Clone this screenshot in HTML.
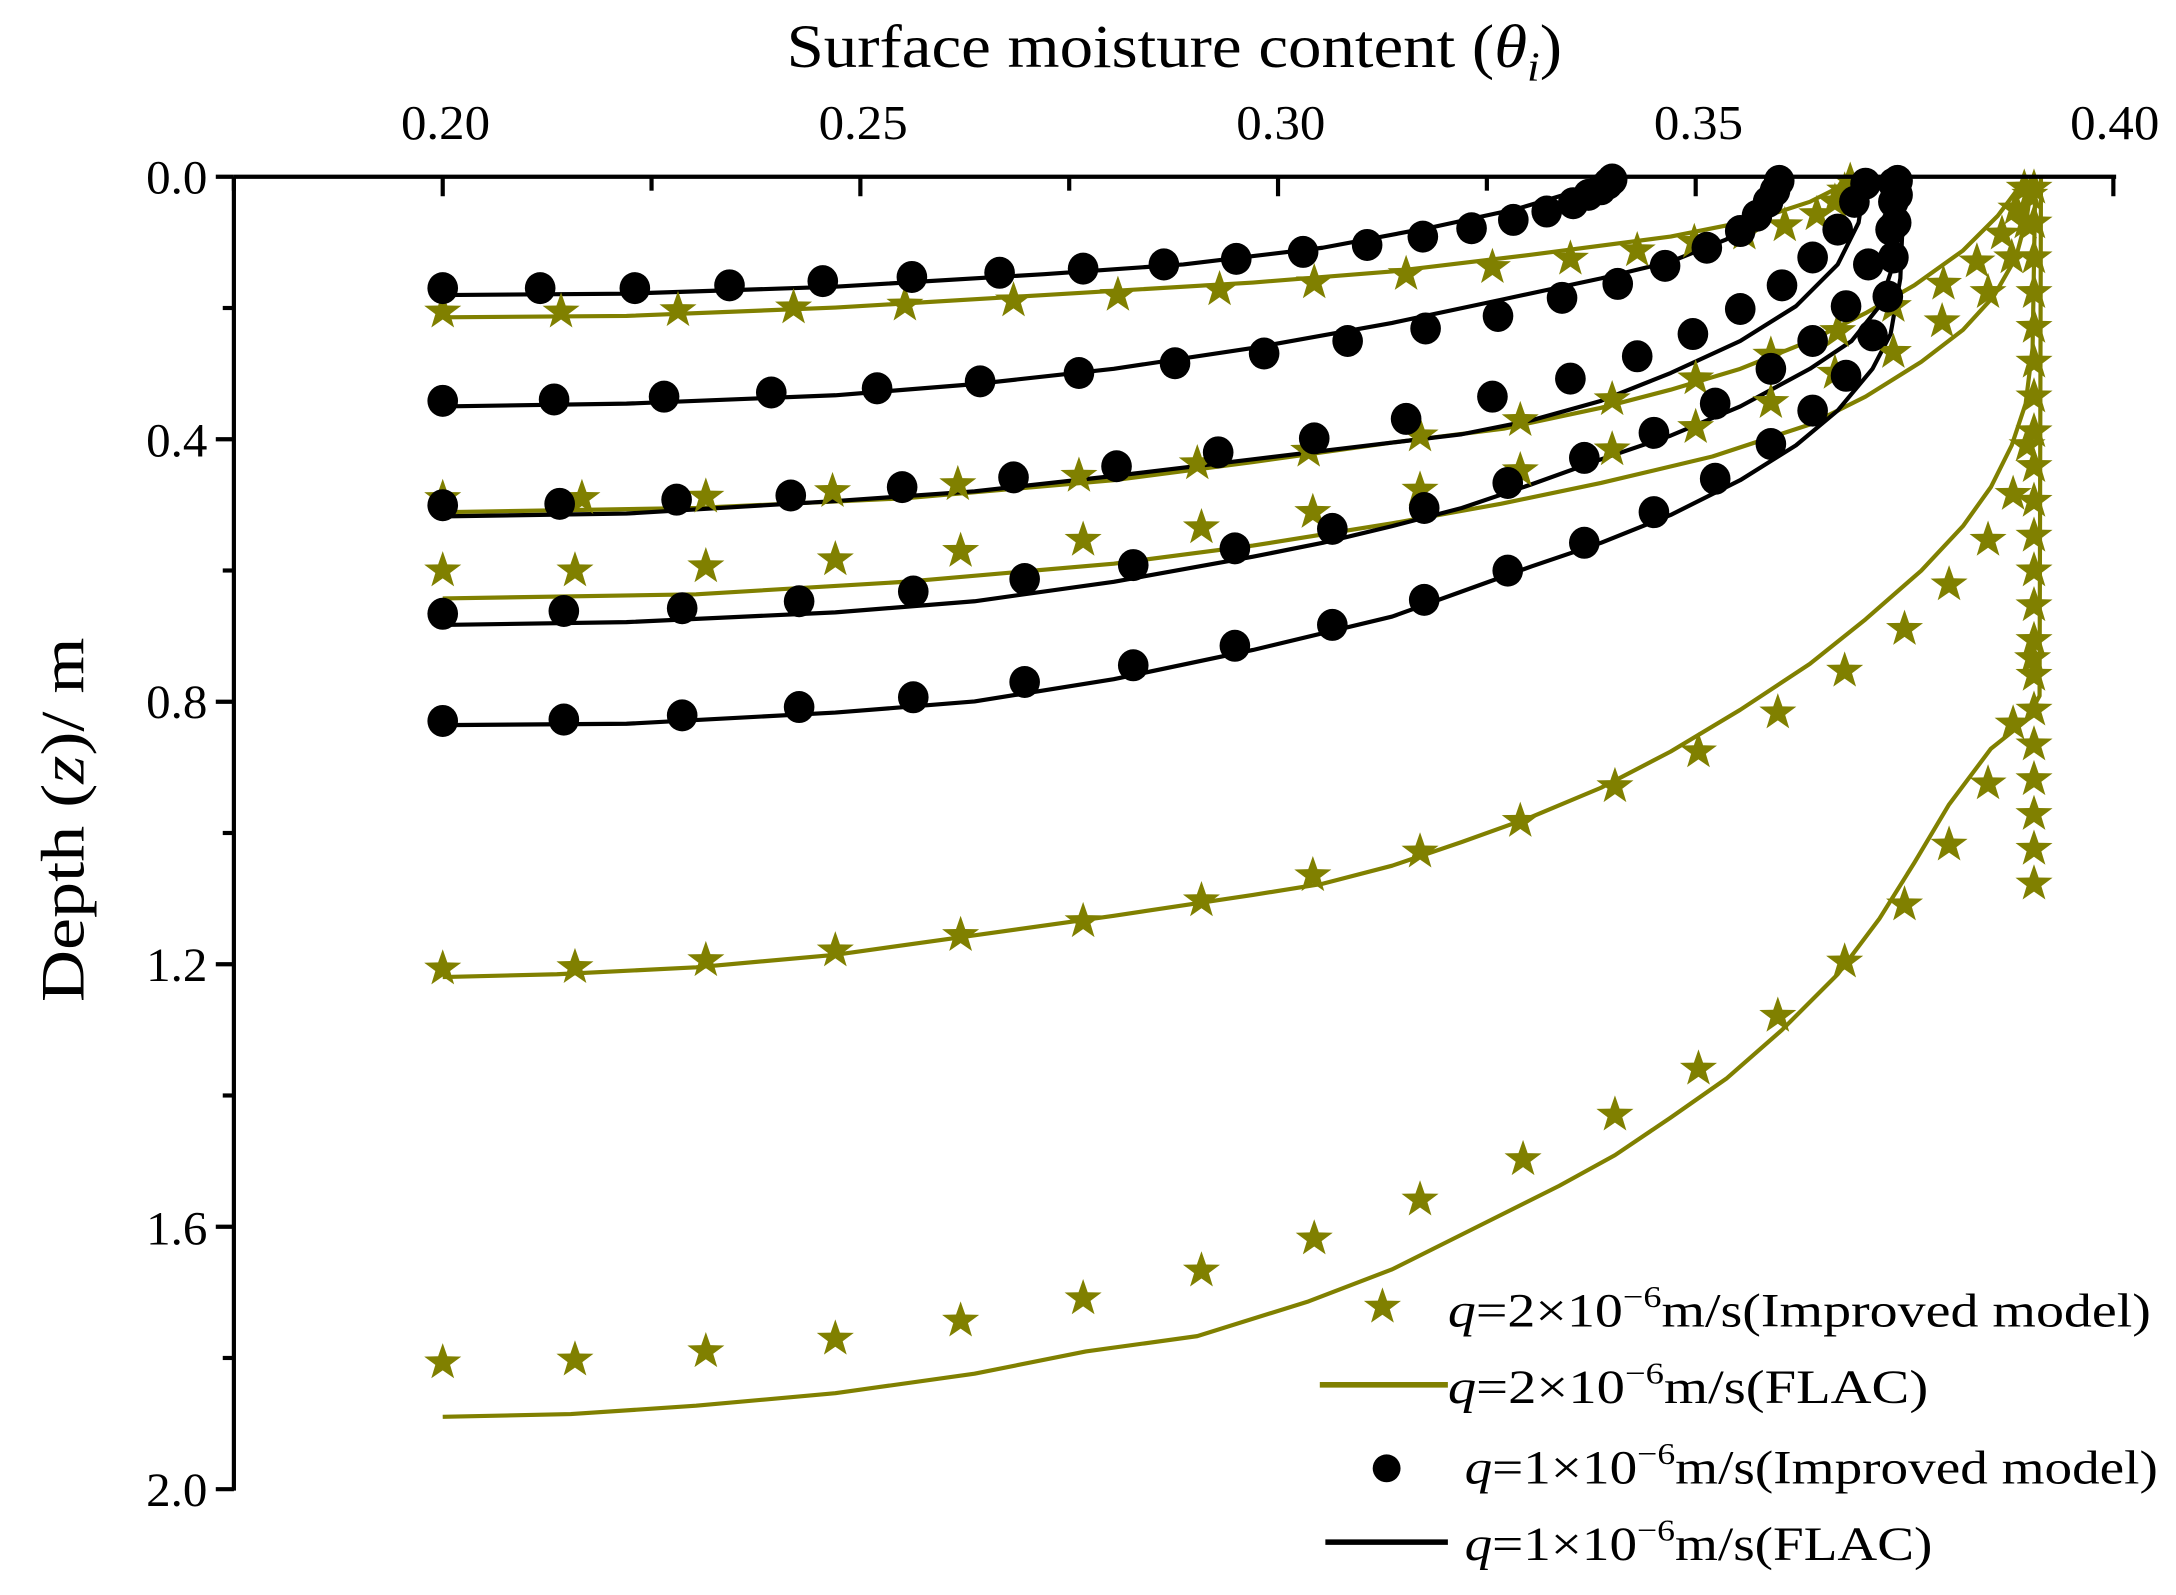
<!DOCTYPE html>
<html><head><meta charset="utf-8"><style>html,body{margin:0;padding:0;background:#fff}svg{display:block}</style></head>
<body>
<svg id="s" width="2176" height="1595" viewBox="0 0 1563 1146" preserveAspectRatio="none" xmlns="http://www.w3.org/2000/svg" font-family="'Liberation Serif',serif">
<defs>
<path id="st" d="M0,-14 L3.3,-4.5 L13.3,-4.3 L5.3,1.7 L8.2,11.3 L0,5.6 L-8.2,11.3 L-5.3,1.7 L-13.3,-4.3 L-3.3,-4.5Z" fill="#808000"/>
</defs>
<g id="plot"></g>
<g stroke="#000" stroke-width="3" fill="none">
<line x1="168" y1="127" x2="1520" y2="127"/>
<line x1="168" y1="127" x2="168" y2="1071"/>
</g>
<g id="ticks" stroke="#000" stroke-width="3"></g>
<g font-size="35" text-anchor="middle">
<text x="320" y="100" textLength="64" lengthAdjust="spacingAndGlyphs">0.20</text><text x="620" y="100" textLength="64" lengthAdjust="spacingAndGlyphs">0.25</text><text x="920" y="100" textLength="64" lengthAdjust="spacingAndGlyphs">0.30</text><text x="1220" y="100" textLength="64" lengthAdjust="spacingAndGlyphs">0.35</text><text x="1519" y="100" textLength="64" lengthAdjust="spacingAndGlyphs">0.40</text>
</g>
<g font-size="34" text-anchor="end">
<text x="149" y="139" textLength="44" lengthAdjust="spacingAndGlyphs">0.0</text><text x="149" y="328" textLength="44" lengthAdjust="spacingAndGlyphs">0.4</text><text x="149" y="516" textLength="44" lengthAdjust="spacingAndGlyphs">0.8</text><text x="149" y="705" textLength="44" lengthAdjust="spacingAndGlyphs">1.2</text><text x="149" y="894" textLength="44" lengthAdjust="spacingAndGlyphs">1.6</text><text x="149" y="1082" textLength="44" lengthAdjust="spacingAndGlyphs">2.0</text>
</g>
<text x="565" y="48" font-size="44" textLength="557" lengthAdjust="spacingAndGlyphs">Surface moisture content (<tspan font-style="italic">θ</tspan><tspan font-style="italic" font-size="30" dy="10">i</tspan><tspan dy="-10">)</tspan></text>
<text transform="translate(60,720) rotate(-90)" font-size="44" textLength="262" lengthAdjust="spacingAndGlyphs">Depth (<tspan font-style="italic">z</tspan>)/ m</text>
<g font-size="34">
<use href="#st" x="993" y="939"/>
<text x="1040" y="953" textLength="505" lengthAdjust="spacingAndGlyphs"><tspan font-style="italic">q</tspan>=2×10<tspan font-size="22" dy="-14">−6</tspan><tspan dy="14">m/s(Improved model)</tspan></text>
<line x1="948" y1="995" x2="1040" y2="995" stroke="#808000" stroke-width="4"/>
<text x="1040" y="1008" textLength="345" lengthAdjust="spacingAndGlyphs"><tspan font-style="italic">q</tspan>=2×10<tspan font-size="22" dy="-14">−6</tspan><tspan dy="14">m/s(FLAC)</tspan></text>
<circle cx="996" cy="1055" r="10"/>
<text x="1052" y="1066" textLength="498" lengthAdjust="spacingAndGlyphs"><tspan font-style="italic">q</tspan>=1×10<tspan font-size="22" dy="-14">−6</tspan><tspan dy="14">m/s(Improved model)</tspan></text>
<line x1="952" y1="1108" x2="1040" y2="1108" stroke="#000" stroke-width="4"/>
<text x="1052" y="1121" textLength="336" lengthAdjust="spacingAndGlyphs"><tspan font-style="italic">q</tspan>=1×10<tspan font-size="22" dy="-14">−6</tspan><tspan dy="14">m/s(FLAC)</tspan></text>
</g>
</svg>
<script>
var NS="http://www.w3.org/2000/svg",P=document.getElementById("plot"),T=document.getElementById("ticks");
function el(n,a,p){var e=document.createElementNS(NS,n);for(var k in a)e.setAttribute(k,a[k]);(p||P).appendChild(e);return e;}
for(var i=0;i<=9;i++){var x=168+i*150;if(x>1520)break;el("line",{x1:x,y1:127,x2:x,y2:(i%2==1?141:137)},T);}
for(var i=0;i<=10;i++){var y=127+i*94.3;el("line",{x1:(i%2==0?155:160),y1:y,x2:168,y2:y},T);}
function line(pts,c){el("polyline",{points:pts.map(function(p){return p.join(",")}).join(" "),fill:"none",stroke:c,"stroke-width":3,"stroke-linejoin":"round"});}
var O="#808000";
var OL=[
[[318,228],[450,227],[600,221],[750,212],[900,203],[1000,195],[1100,183],[1200,170],[1260,158],[1300,145],[1320,135],[1325,127]],
[[318,368],[500,365],[650,358],[800,345],[900,332],[1000,318],[1080,308],[1150,293],[1200,280],[1250,265],[1300,245],[1340,225],[1375,205],[1410,180],[1435,155],[1450,135],[1455,127]],
[[318,430],[500,427],[650,418],[800,405],[900,392],[1000,376],[1078,362],[1150,347],[1230,328],[1300,305],[1340,285],[1380,260],[1410,237],[1432,213],[1448,185],[1456,155],[1460,127]],
[[318,702],[400,700],[500,695],[600,686],[700,672],[800,658],[900,643],[950,635],[1000,622],[1050,605],[1100,587],[1150,566],[1200,540],[1250,510],[1300,477],[1340,445],[1380,410],[1410,378],[1430,350],[1445,320],[1455,290],[1460,250],[1462,127]],
[[318,1018],[410,1016],[500,1010],[600,1001],[700,987],[780,971],[860,960],[940,935],[1000,912],[1060,882],[1120,852],[1160,830],[1200,803],[1240,775],[1280,740],[1320,700],[1350,660],[1375,620],[1400,578],[1430,538],[1455,518],[1465,500],[1466,127]]];
var BL=[
[[318,212],[450,211],[600,206],[750,197],[850,190],[950,178],[1030,163],[1090,150],[1130,138],[1150,131],[1160,127]],
[[318,292],[450,290],[600,284],[700,276],[800,265],[900,250],[1000,232],[1080,215],[1150,200],[1200,188],[1240,172],[1265,155],[1275,140],[1280,127]],
[[318,371],[450,369],[600,360],[700,353],[800,342],[900,330],[1000,318],[1050,312],[1100,302],[1150,288],[1200,268],[1250,245],[1290,220],[1320,190],[1335,160],[1340,127]],
[[318,449],[450,447],[600,440],[700,432],[800,418],[900,400],[950,390],[1000,378],[1050,365],[1100,348],[1150,330],[1200,313],[1250,292],[1300,265],[1330,245],[1350,220],[1360,190],[1362,127]],
[[318,521],[450,520],[600,512],[700,504],[800,488],[900,467],[1000,443],[1050,425],[1100,407],[1150,390],[1200,370],[1250,345],[1290,320],[1320,295],[1345,265],[1358,240],[1365,200],[1368,127]]];
OL.forEach(function(p){line(p,O);});
BL.forEach(function(p){line(p,"#000");});
var SD=[
[[318,224],[403,224],[487,223],[570,221],[650,219],[728,216],[803,212],[876,208],[944,203],[1010,197],[1072,192],[1128,186],[1176,180],[1217,174],[1253,168],[1282,162],[1305,154],[1318,145],[1325,137],[1329,130]],
[[318,358],[418,358],[507,357],[598,353],[688,348],[775,342],[860,333],[940,324],[1020,313],[1092,302],[1158,287],[1218,272],[1272,255],[1320,238],[1360,220],[1396,204],[1420,188],[1438,168],[1448,150],[1454,135]],
[[318,410],[413,410],[507,407],[600,402],[690,396],[778,388],[863,379],[943,368],[1020,352],[1092,338],[1158,323],[1218,307],[1272,289],[1318,268],[1360,253],[1395,231],[1428,210],[1445,185],[1455,160],[1458,140]],
[[318,696],[413,695],[507,690],[600,683],[690,672],[778,662],[863,647],[943,629],[1020,612],[1092,590],[1160,565],[1220,540],[1277,512],[1325,482],[1368,452],[1400,420],[1428,388],[1446,355],[1456,320]],
[[318,979],[413,977],[507,971],[600,962],[690,949],[778,933],[863,913],[944,890],[1020,862],[1094,833],[1160,801],[1220,768],[1277,730],[1325,691],[1368,650],[1400,607],[1428,563],[1446,520],[1460,473]]];
for(var y=135;y<=650;y+=25)SD[0].push([1461,y]);
SD.forEach(function(s){s.forEach(function(p){el("use",{href:"#st",x:p[0],y:p[1]});});});
var BD=[
[[318,207],[388,207],[456,207],[524,205],[591,202],[655,199],[718,196],[778,193],[836,190],[888,186],[936,181],[982,176],[1022,170],[1057,164],[1087,158],[1111,152],[1130,146],[1141,140],[1150,136],[1155,132],[1158,129]],
[[318,288],[398,287],[477,285],[554,282],[630,279],[704,274],[775,268],[844,261],[908,254],[968,245],[1024,236],[1076,227],[1122,214],[1162,204],[1196,191],[1226,178],[1250,166],[1262,155],[1270,145],[1275,137],[1278,130]],
[[318,363],[402,362],[486,359],[568,356],[648,350],[728,343],[802,335],[875,325],[944,315],[1010,301],[1072,285],[1128,272],[1176,256],[1216,240],[1250,222],[1280,205],[1302,185],[1320,165],[1332,145],[1340,132]],
[[318,441],[405,439],[490,437],[574,432],[656,425],[736,416],[814,406],[887,394],[957,380],[1023,365],[1083,347],[1138,329],[1188,311],[1232,290],[1272,265],[1302,245],[1326,220],[1342,190],[1358,165],[1360,145],[1360,132]],
[[318,518],[405,517],[490,514],[574,508],[656,501],[736,490],[814,478],[887,464],[957,449],[1023,431],[1083,410],[1138,390],[1188,368],[1232,344],[1272,319],[1302,295],[1326,270],[1345,241],[1356,213],[1360,185],[1362,160],[1363,140],[1363,130]]];
BD.forEach(function(s){s.forEach(function(p){el("ellipse",{cx:p[0],cy:p[1],rx:11,ry:11.5,fill:"#000"});});});
</script>
</body></html>
